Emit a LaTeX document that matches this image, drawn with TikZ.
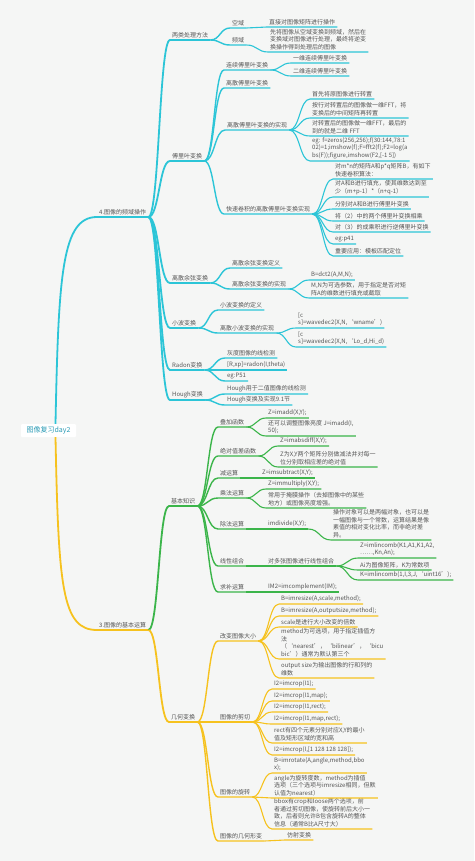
\documentclass[tikz,border=0pt]{standalone}
\usepackage{fontspec}
\setmainfont{Noto Sans CJK SC}
\usetikzlibrary{calc}
\definecolor{paper}{HTML}{F5F6F5}
\definecolor{cyanline}{HTML}{2CC5D7}
\definecolor{greenline}{HTML}{3BB54A}
\definecolor{yellowline}{HTML}{F6C21E}
\definecolor{inkgray}{HTML}{555555}
\definecolor{roottext}{HTML}{2A9BB5}

\begin{document}
\begin{tikzpicture}[
  x=1pt, y=-1pt,
  topic/.style  = {anchor=south west, inner xsep=2pt, inner ysep=2pt,
                   align=left, text=inkgray, font=\fontsize{6}{7.5}\selectfont},
  rootbox/.style = {fill=white, rounded corners=1pt, minimum width=55pt,
                   minimum height=13pt, inner sep=2pt, text=roottext,
                   font=\fontsize{7}{8}\selectfont},
  link/.style   = {to path={.. controls ($(\tikztostart)!0.5!(\tikztostart -| \tikztotarget)$)
                   and ($(\tikztotarget)!0.5!(\tikztotarget -| \tikztostart)$) .. (\tikztotarget) \tikztonodes}},
  cy/.style     = {draw=cyanline, line width=1.1pt},
  gr/.style     = {draw=greenline, line width=1.1pt},
  ye/.style     = {draw=yellowline, line width=1.1pt},
  main/.style   = {line width=1.8pt},
  mid/.style    = {line width=1.4pt}
]
\useasboundingbox (0,0) rectangle (474,861);
\fill[paper] (0,0) rectangle (474,861);

% root and the two big branches
\node[rootbox] (root) at (48.5,430.5) {图像复习day2};
\node[topic] (freq)  at (97,217) {4.图像的频域操作};
\node[topic] (basic) at (97,630) {3.图像的基本运算};

% 4. frequency domain
\node[topic] (two)   at (170,40)  {两类处理方法};
\node[topic] (four)  at (170,161) {傅里叶变换};
\node[topic] (dct)   at (170,283) {离散余弦变换};
\node[topic] (wave)  at (170,328) {小波变换};
\node[topic] (radon) at (170,370) {Radon变换};
\node[topic] (hough) at (170,400) {Hough变换};

\node[topic] (spat)  at (230,28)  {空域};
\node[topic] (spatl) at (267,27)  {直接对图像矩阵进行操作};
\node[topic] (fdom)  at (230,45)  {频域};
\node[topic] (fdoml) at (268,52)  {先将图像从空域变换到频域，然后在\\变换域对图像进行处理，最终将逆变\\换操作得到处理后的图像};

\node[topic] (cft)   at (224,70)  {连续傅里叶变换};
\node[topic] (cft1)  at (291,63)  {一维连续傅里叶变换};
\node[topic] (cft2)  at (291,76)  {二维连续傅里叶变换};
\node[topic] (dft)   at (224,88)  {离散傅里叶变换};
\node[topic] (dfti)  at (225,130) {离散傅里叶变换的实现};
\node[topic] (dfti1) at (310,99)  {首先将原图像进行转置};
\node[topic] (dfti2) at (310,118) {按行对转置后的图像做一维FFT，将\\变换后的中间矩阵再转置};
\node[topic] (dfti3) at (310,136) {对转置后的图像做一维FFT，最后的\\到的就是二维 FFT};
\node[topic] (dfti4) at (310,161) {eg: f=zeros(256,256);f(30:144,78:1\\02)=1;imshow(f);F=fft2(f);F2=log(a\\bs(F));figure,imshow(F2,[-1 5])};
\node[topic] (fconv) at (224,214) {快速卷积的离散傅里叶变换实现};
\node[topic] (fc1)   at (333,179) {对m*n的矩阵A和p*q矩阵B，有如下\\快速卷积算法：};
\node[topic] (fc2)   at (333,197) {对A和B进行填充，使其维数达到至\\少（m+p-1）*（n+q-1）};
\node[topic] (fc3)   at (333,209) {分别对A和B进行傅里叶变换};
\node[topic] (fc4)   at (333,221) {将（2）中的两个傅里叶变换相乘};
\node[topic] (fc5)   at (333,232) {对（3）的成乘积进行逆傅里叶变换};
\node[topic] (fc6)   at (333,244) {eg:p41};
\node[topic] (fc7)   at (333,256) {重要应用：模板匹配定位};

\node[topic] (dctd)  at (230,268) {离散余弦变换定义};
\node[topic] (dcti)  at (230,289) {离散余弦变换的实现};
\node[topic] (dcti1) at (309,280) {B=dct2(A,M,N);};
\node[topic] (dcti2) at (309,298) {M,N为可选参数，用于指定是否对矩\\阵A的维数进行填充或截取};

\node[topic] (wdef)  at (218,310) {小波变换的定义};
\node[topic] (wimp)  at (218,333) {离散小波变换的实现};
\node[topic] (wimp1) at (296,328) {[c\\s]=wavedec2(X,N,‘wname’)};
\node[topic] (wimp2) at (296,347) {[c\\s]=wavedec2(X,N,‘Lo\_d,Hi\_d)};

\node[topic] (rad1)  at (225,358) {灰度图像的线检测};
\node[topic] (rad2)  at (225,370) {[R,xp]=radon(I,theta)};
\node[topic] (rad3)  at (225,381) {eg:P51};
\node[topic] (hou1)  at (225,394) {Hough用于二值图像的线检测};
\node[topic] (hou2)  at (225,405) {Hough变换及实现9.1节};

% 3. basic operations
\node[topic] (know)  at (169,506) {基本知识};
\node[topic] (add)   at (218,427) {叠加函数};
\node[topic] (add1)  at (266,418) {Z=imadd(X,Y);};
\node[topic] (add2)  at (266,436) {还可以调整图像亮度 J=imadd(I,\\50);};
\node[topic] (absd)  at (218,456) {绝对值差函数};
\node[topic] (absd1) at (278,446) {Z=imabsdiff(X,Y);};
\node[topic] (absd2) at (278,467) {Z为X,Y两个矩阵分别做减法并对每一\\位分别取相应差的绝对值};
\node[topic] (sub)   at (218,478) {减运算};
\node[topic] (sub1)  at (260,478) {Z=imsubtract(X,Y);};
\node[topic] (mul)   at (218,498) {乘法运算};
\node[topic] (mul1)  at (266,489) {Z=immultiply(X,Y);};
\node[topic] (mul2)  at (266,508) {常用于掩膜操作（去掉图像中的某些\\地方）或图像亮度增强。};
\node[topic] (div)   at (218,529) {除法运算};
\node[topic] (div1)  at (266,529) {imdivide(X,Y);};
\node[topic] (div2)  at (331,540) {操作对象可以是两幅对象，也可以是\\一幅图像与一个常数，运算结果是像\\素值的相对变化比率，而非绝对差\\异。};
\node[topic] (lin)   at (218,566) {线性组合};
\node[topic] (lin1)  at (266,566) {对多张图像进行线性组合};
\node[topic] (lin2)  at (358,558) {Z=imlincomb(K1,A1,K1,A2,\\……,Kn,An);};
\node[topic] (lin3)  at (358,570) {Ai为图像矩阵，K为常数项};
\node[topic] (lin4)  at (358,580) {K=imlincomb(1,I,3,J,‘uint16’);};
\node[topic] (comp)  at (218,592) {求补运算};
\node[topic] (comp1) at (266,592) {IM2=imcomplement(IM);};

\node[topic] (geo)   at (169,722) {几何变换};
\node[topic] (resz)  at (218,641) {改变图像大小};
\node[topic] (resz1) at (279,604) {B=imresize(A,scale,method);};
\node[topic] (resz2) at (279,616) {B=imresize(A,outputsize,method);};
\node[topic] (resz3) at (279,627) {scale是进行大小改变的倍数};
\node[topic] (resz4) at (279,659) {method为可选项，用于指定插值方\\法\\（‘nearest’，‘bilinear’，‘bicu\\bic’）通常为默认第三个};
\node[topic] (resz5) at (279,678) {output size为输出图像的行和列的\\维数};
\node[topic] (crop)  at (218,722) {图像的剪切};
\node[topic] (crop1) at (272,689) {I2=imcrop(I1);};
\node[topic] (crop2) at (272,701) {I2=imcrop(I1,map);};
\node[topic] (crop3) at (272,712) {I2=imcrop(I1,rect);};
\node[topic] (crop4) at (272,724) {I2=imcrop(I1,map,rect);};
\node[topic] (crop5) at (272,743) {rect有四个元素分别对应X,Y的最小\\值及矩形区域的宽和高};
\node[topic] (crop6) at (272,755) {I2=imcrop(I,[1 128 128 128]);};
\node[topic] (rot)   at (218,797) {图像的旋转};
\node[topic] (rot1)  at (272,773) {B=imrotate(A,angle,method,bbo\\x);};
\node[topic] (rot2)  at (272,798) {angle为旋转度数，method为插值\\选项（三个选项与imresize相同，但默\\认值为nearest）};
\node[topic] (rot3)  at (272,829) {bbox有crop和loose两个选项，前\\者通过剪切图像，使旋转前后大小一\\致，后者则允许B包含旋转A的整体\\信息（通常B比A尺寸大）};
\node[topic] (warp)  at (218,841) {图像的几何形变};
\node[topic] (warp1) at (285,840) {仿射变换};

% connectors (each path also draws the child's underline)
\draw[cy, main] ([xshift=7pt]root.north) .. controls +(3,-150) and +(-35,0) .. (freq.south west) -- (freq.south east);
\draw[ye, main] ([xshift=7pt]root.south) .. controls +(3,150) and +(-35,0) .. (basic.south west) -- (basic.south east);

\draw[cy, main] (freq.south east) to[link] (two.south west) -- (two.south east);
\draw[cy, main] (freq.south east) to[link] (four.south west) -- (four.south east);
\draw[cy, main] (freq.south east) to[link] (dct.south west) -- (dct.south east);
\draw[cy, main] (freq.south east) to[link] (wave.south west) -- (wave.south east);
\draw[cy, main] (freq.south east) to[link] (radon.south west) -- (radon.south east);
\draw[cy, main] (freq.south east) to[link] (hough.south west) -- (hough.south east);

\draw[cy, mid] (two.south east) to[link] (spat.south west) -- (spat.south east);
\draw[cy, mid] (two.south east) to[link] (fdom.south west) -- (fdom.south east);
\draw[cy] (spat.south east) to[link] (spatl.south west) -- (spatl.south east);
\draw[cy] (fdom.south east) to[link] (fdoml.south west) -- (fdoml.south east);

\draw[cy, mid] (four.south east) to[link] (cft.south west) -- (cft.south east);
\draw[cy, mid] (four.south east) to[link] (dft.south west) -- (dft.south east);
\draw[cy, mid] (four.south east) to[link] (dfti.south west) -- (dfti.south east);
\draw[cy, mid] (four.south east) to[link] (fconv.south west) -- (fconv.south east);
\draw[cy] (cft.south east) to[link] (cft1.south west) -- (cft1.south east);
\draw[cy] (cft.south east) to[link] (cft2.south west) -- (cft2.south east);
\draw[cy] (dfti.south east) to[link] (dfti1.south west) -- (dfti1.south east);
\draw[cy] (dfti.south east) to[link] (dfti2.south west) -- (dfti2.south east);
\draw[cy] (dfti.south east) to[link] (dfti3.south west) -- (dfti3.south east);
\draw[cy] (dfti.south east) to[link] (dfti4.south west) -- (dfti4.south east);
\draw[cy] (fconv.south east) to[link] (fc1.south west) -- (fc1.south east);
\draw[cy] (fconv.south east) to[link] (fc2.south west) -- (fc2.south east);
\draw[cy] (fconv.south east) to[link] (fc3.south west) -- (fc3.south east);
\draw[cy] (fconv.south east) to[link] (fc4.south west) -- (fc4.south east);
\draw[cy] (fconv.south east) to[link] (fc5.south west) -- (fc5.south east);
\draw[cy] (fconv.south east) to[link] (fc6.south west) -- (fc6.south east);
\draw[cy] (fconv.south east) to[link] (fc7.south west) -- (fc7.south east);

\draw[cy, mid] (dct.south east) to[link] (dctd.south west) -- (dctd.south east);
\draw[cy, mid] (dct.south east) to[link] (dcti.south west) -- (dcti.south east);
\draw[cy] (dcti.south east) to[link] (dcti1.south west) -- (dcti1.south east);
\draw[cy] (dcti.south east) to[link] (dcti2.south west) -- (dcti2.south east);

\draw[cy, mid] (wave.south east) to[link] (wdef.south west) -- (wdef.south east);
\draw[cy, mid] (wave.south east) to[link] (wimp.south west) -- (wimp.south east);
\draw[cy] (wimp.south east) to[link] (wimp1.south west) -- (wimp1.south east);
\draw[cy] (wimp.south east) to[link] (wimp2.south west) -- (wimp2.south east);

\draw[cy, mid] (radon.south east) to[link] (rad1.south west) -- (rad1.south east);
\draw[cy, mid] (radon.south east) to[link] (rad2.south west) -- (rad2.south east);
\draw[cy, mid] (radon.south east) to[link] (rad3.south west) -- (rad3.south east);
\draw[cy, mid] (hough.south east) to[link] (hou1.south west) -- (hou1.south east);
\draw[cy, mid] (hough.south east) to[link] (hou2.south west) -- (hou2.south east);

\draw[gr, main] (basic.south east) to[link] (know.south west) -- (know.south east);
\draw[ye, main] (basic.south east) to[link] (geo.south west) -- (geo.south east);

\draw[gr, mid] (know.south east) to[link] (add.south west) -- (add.south east);
\draw[gr, mid] (know.south east) to[link] (absd.south west) -- (absd.south east);
\draw[gr, mid] (know.south east) to[link] (sub.south west) -- (sub.south east);
\draw[gr, mid] (know.south east) to[link] (mul.south west) -- (mul.south east);
\draw[gr, mid] (know.south east) to[link] (div.south west) -- (div.south east);
\draw[gr, mid] (know.south east) to[link] (lin.south west) -- (lin.south east);
\draw[gr, mid] (know.south east) to[link] (comp.south west) -- (comp.south east);
\draw[gr] (add.south east) to[link] (add1.south west) -- (add1.south east);
\draw[gr] (add.south east) to[link] (add2.south west) -- (add2.south east);
\draw[gr] (absd.south east) to[link] (absd1.south west) -- (absd1.south east);
\draw[gr] (absd.south east) to[link] (absd2.south west) -- (absd2.south east);
\draw[gr] (sub.south east) to[link] (sub1.south west) -- (sub1.south east);
\draw[gr] (mul.south east) to[link] (mul1.south west) -- (mul1.south east);
\draw[gr] (mul.south east) to[link] (mul2.south west) -- (mul2.south east);
\draw[gr] (div.south east) to[link] (div1.south west) -- (div1.south east);
\draw[gr] (div1.south east) to[link] (div2.south west) -- (div2.south east);
\draw[gr] (lin.south east) to[link] (lin1.south west) -- (lin1.south east);
\draw[gr] (lin1.south east) to[link] (lin2.south west) -- (lin2.south east);
\draw[gr] (lin1.south east) to[link] (lin3.south west) -- (lin3.south east);
\draw[gr] (lin1.south east) to[link] (lin4.south west) -- (lin4.south east);
\draw[gr] (comp.south east) to[link] (comp1.south west) -- (comp1.south east);

\draw[ye, mid] (geo.south east) to[link] (resz.south west) -- (resz.south east);
\draw[ye, mid] (geo.south east) to[link] (crop.south west) -- (crop.south east);
\draw[ye, mid] (geo.south east) to[link] (rot.south west) -- (rot.south east);
\draw[ye, mid] (geo.south east) to[link] (warp.south west) -- (warp.south east);
\draw[ye] (resz.south east) to[link] (resz1.south west) -- (resz1.south east);
\draw[ye] (resz.south east) to[link] (resz2.south west) -- (resz2.south east);
\draw[ye] (resz.south east) to[link] (resz3.south west) -- (resz3.south east);
\draw[ye] (resz.south east) to[link] (resz4.south west) -- (resz4.south east);
\draw[ye] (resz.south east) to[link] (resz5.south west) -- (resz5.south east);
\draw[ye] (crop.south east) to[link] (crop1.south west) -- (crop1.south east);
\draw[ye] (crop.south east) to[link] (crop2.south west) -- (crop2.south east);
\draw[ye] (crop.south east) to[link] (crop3.south west) -- (crop3.south east);
\draw[ye] (crop.south east) to[link] (crop4.south west) -- (crop4.south east);
\draw[ye] (crop.south east) to[link] (crop5.south west) -- (crop5.south east);
\draw[ye] (crop.south east) to[link] (crop6.south west) -- (crop6.south east);
\draw[ye] (rot.south east) to[link] (rot1.south west) -- (rot1.south east);
\draw[ye] (rot.south east) to[link] (rot2.south west) -- (rot2.south east);
\draw[ye] (rot.south east) to[link] (rot3.south west) -- (rot3.south east);
\draw[ye] (warp.south east) to[link] (warp1.south west) -- (warp1.south east);
\end{tikzpicture}
\end{document}
